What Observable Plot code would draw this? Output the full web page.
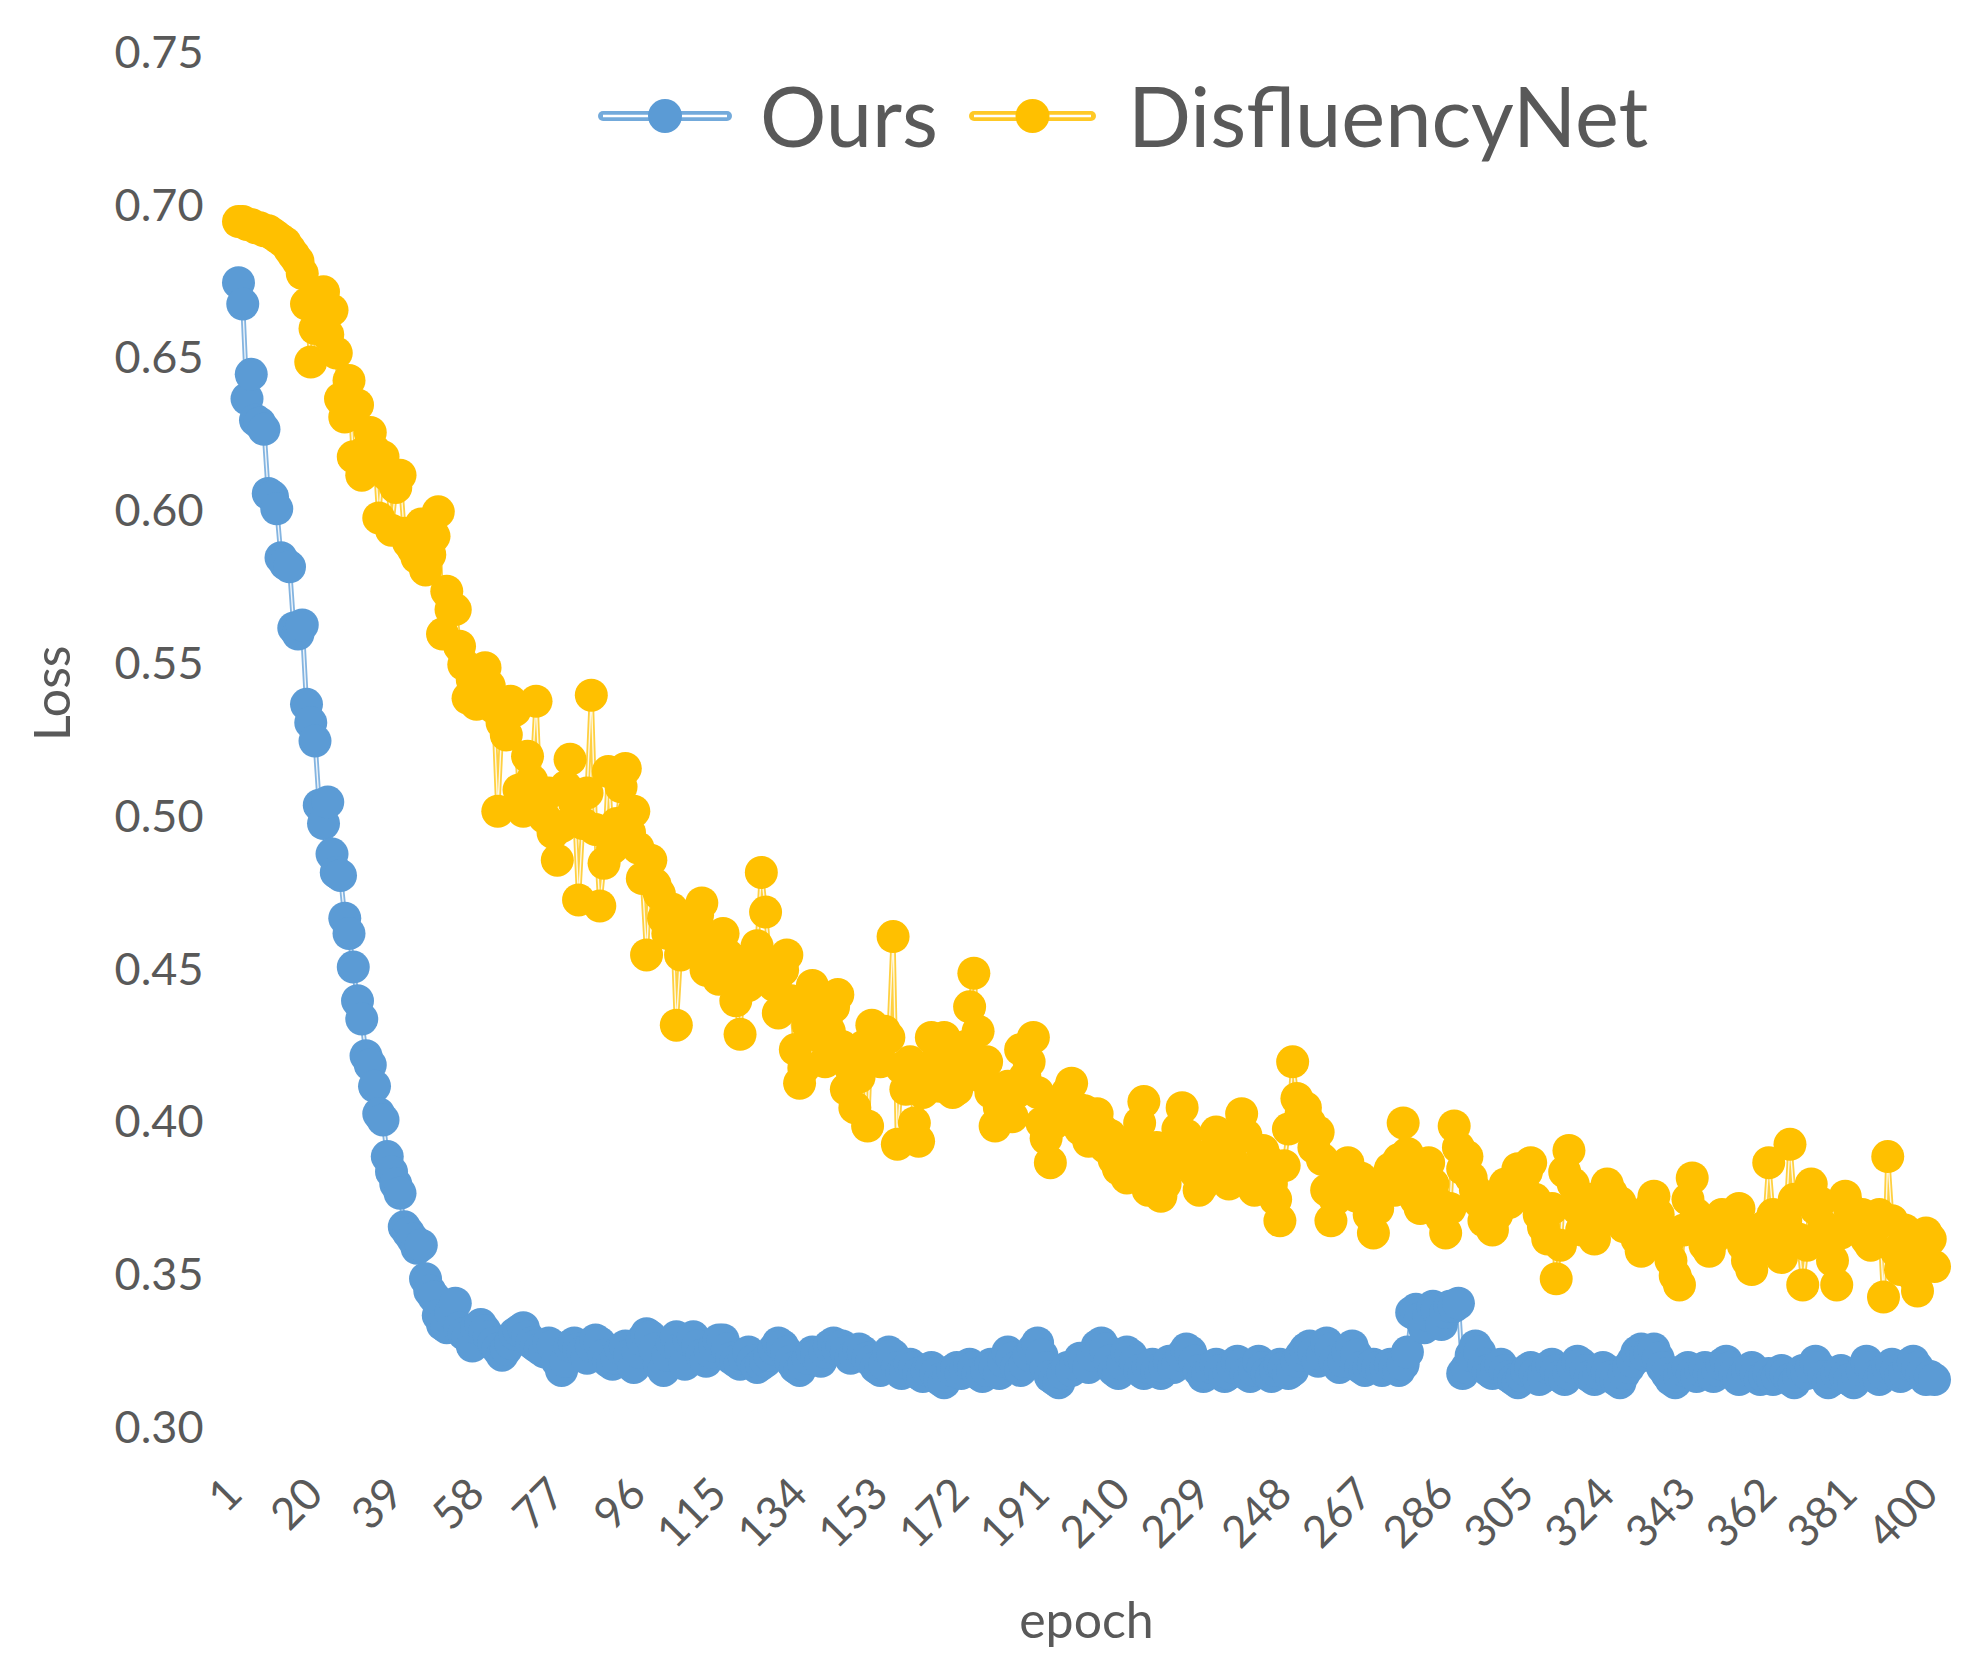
<!DOCTYPE html>
<html>
<head>
<meta charset="utf-8">
<script src="https://cdn.jsdelivr.net/npm/d3@7"></script>
<script src="https://cdn.jsdelivr.net/npm/@observablehq/plot@0.6"></script>
<style>
  html, body { margin: 0; padding: 0; background: #ffffff; }
  #wrap { position: relative; width: 1975px; height: 1672px; font-family: Lato, "Open Sans", sans-serif; color: #595959; }
  #legend { position: absolute; left: 598px; top: 74px; display: flex; align-items: center; }
  #legend .item { display: flex; align-items: center; }
  #legend .lab { font-size: 83px; line-height: 83px; color: #595959; }
</style>
</head>
<body>
<div id="wrap">
  <div id="chart"></div>
  <div id="legend"></div>
</div>
<script>
// ---- data ----
const seriesNames = ["Ours", "DisfluencyNet"];
const seriesColors = ["#5B9BD5", "#FFC000"];
const xTicks = [1, 20, 39, 58, 77, 96, 115, 134, 153, 172, 191, 210, 229, 248, 267, 286, 305, 324, 343, 362, 381, 400];
const yTicks = [0.30, 0.35, 0.40, 0.45, 0.50, 0.55, 0.60, 0.65, 0.70, 0.75];
const xLabel = "epoch";
const yLabel = "Loss";

const ours = [
  0.675, 0.668, 0.637, 0.645, 0.630, 0.629, 0.627, 0.606, 0.605, 0.601, 0.585, 0.583, 0.582, 0.562, 0.560, 0.563, 0.537, 0.531, 0.525, 0.504,
  0.498, 0.505, 0.488, 0.482, 0.481, 0.467, 0.462, 0.451, 0.440, 0.434, 0.422, 0.419, 0.412, 0.403, 0.401, 0.389, 0.384, 0.380, 0.377, 0.366,
  0.364, 0.362, 0.359, 0.360, 0.349, 0.345, 0.343, 0.337, 0.334, 0.333, 0.338, 0.341, 0.333, 0.331, 0.330, 0.327, 0.333, 0.334, 0.332, 0.330,
  0.328, 0.326, 0.324, 0.326, 0.328, 0.331, 0.332, 0.333, 0.330, 0.328, 0.327, 0.326, 0.325, 0.328, 0.327, 0.322, 0.319, 0.322, 0.327, 0.328,
  0.326, 0.325, 0.323, 0.327, 0.329, 0.328, 0.324, 0.322, 0.321, 0.323, 0.326, 0.327, 0.324, 0.320, 0.325, 0.329, 0.331, 0.330, 0.326, 0.321,
  0.319, 0.324, 0.328, 0.330, 0.326, 0.321, 0.329, 0.330, 0.327, 0.324, 0.322, 0.325, 0.327, 0.329, 0.329, 0.326, 0.323, 0.322, 0.321, 0.323,
  0.325, 0.322, 0.320, 0.321, 0.322, 0.324, 0.326, 0.328, 0.327, 0.325, 0.322, 0.320, 0.319, 0.321, 0.323, 0.325, 0.324, 0.322, 0.325, 0.327,
  0.328, 0.326, 0.327, 0.325, 0.323, 0.324, 0.326, 0.325, 0.323, 0.322, 0.320, 0.319, 0.321, 0.325, 0.324, 0.320, 0.318, 0.319, 0.321, 0.320,
  0.318, 0.317, 0.319, 0.320, 0.318, 0.316, 0.315, 0.317, 0.319, 0.320, 0.318, 0.319, 0.321, 0.320, 0.318, 0.317, 0.319, 0.321, 0.320, 0.318,
  0.322, 0.325, 0.323, 0.320, 0.319, 0.321, 0.324, 0.326, 0.328, 0.324, 0.320, 0.317, 0.316, 0.315, 0.318, 0.320, 0.319, 0.321, 0.323, 0.322,
  0.320, 0.324, 0.327, 0.328, 0.326, 0.322, 0.319, 0.318, 0.321, 0.325, 0.324, 0.322, 0.319, 0.318, 0.320, 0.321, 0.319, 0.318, 0.320, 0.322,
  0.320, 0.321, 0.324, 0.326, 0.325, 0.322, 0.319, 0.317, 0.318, 0.320, 0.321, 0.319, 0.317, 0.318, 0.320, 0.322, 0.321, 0.318, 0.317, 0.319,
  0.322, 0.320, 0.318, 0.317, 0.319, 0.321, 0.320, 0.318, 0.319, 0.322, 0.324, 0.326, 0.327, 0.325, 0.322, 0.324, 0.328, 0.326, 0.322, 0.320,
  0.322, 0.325, 0.327, 0.324, 0.320, 0.319, 0.320, 0.321, 0.320, 0.319, 0.320, 0.321, 0.320, 0.319, 0.321, 0.325, 0.338, 0.339, 0.336, 0.333,
  0.337, 0.340, 0.339, 0.334, 0.338, 0.340, 0.340, 0.341, 0.318, 0.320, 0.324, 0.327, 0.325, 0.321, 0.319, 0.318, 0.320, 0.321, 0.319, 0.317,
  0.316, 0.315, 0.317, 0.319, 0.320, 0.318, 0.316, 0.317, 0.320, 0.321, 0.319, 0.317, 0.316, 0.318, 0.320, 0.322, 0.321, 0.319, 0.317, 0.316,
  0.318, 0.320, 0.319, 0.317, 0.316, 0.315, 0.318, 0.320, 0.322, 0.325, 0.326, 0.324, 0.325, 0.326, 0.323, 0.320, 0.318, 0.316, 0.315, 0.317,
  0.319, 0.320, 0.318, 0.317, 0.319, 0.320, 0.318, 0.317, 0.319, 0.321, 0.322, 0.320, 0.318, 0.316, 0.317, 0.319, 0.320, 0.318, 0.316, 0.317,
  0.318, 0.316, 0.317, 0.319, 0.318, 0.316, 0.315, 0.317, 0.319, 0.318, 0.320, 0.322, 0.320, 0.317, 0.315, 0.316, 0.318, 0.319, 0.317, 0.316,
  0.315, 0.317, 0.319, 0.322, 0.320, 0.317, 0.316, 0.318, 0.320, 0.321, 0.319, 0.317, 0.318, 0.321, 0.322, 0.320, 0.318, 0.316, 0.317, 0.316
];

const disfluencyNet = [
  0.695, 0.695, 0.694, 0.694, 0.693, 0.693, 0.692, 0.692, 0.691, 0.690, 0.689, 0.688, 0.686, 0.684, 0.682, 0.678, 0.668, 0.649, 0.660, 0.666,
  0.672, 0.658, 0.666, 0.652, 0.637, 0.631, 0.643, 0.618, 0.635, 0.612, 0.620, 0.626, 0.620, 0.598, 0.618, 0.612, 0.594, 0.608, 0.612, 0.593,
  0.590, 0.588, 0.585, 0.596, 0.581, 0.586, 0.592, 0.600, 0.560, 0.574, 0.568, 0.568, 0.556, 0.550, 0.539, 0.545, 0.537, 0.540, 0.549, 0.543,
  0.536, 0.502, 0.531, 0.527, 0.538, 0.535, 0.509, 0.502, 0.520, 0.512, 0.538, 0.506, 0.500, 0.508, 0.495, 0.486, 0.497, 0.510, 0.519, 0.505,
  0.473, 0.498, 0.508, 0.540, 0.496, 0.471, 0.485, 0.515, 0.490, 0.498, 0.510, 0.516, 0.495, 0.502, 0.490, 0.480, 0.455, 0.486, 0.478, 0.475,
  0.467, 0.462, 0.470, 0.432, 0.455, 0.465, 0.465, 0.458, 0.468, 0.472, 0.450, 0.460, 0.453, 0.447, 0.462, 0.455, 0.449, 0.440, 0.429, 0.453,
  0.445, 0.450, 0.458, 0.482, 0.469, 0.452, 0.445, 0.436, 0.450, 0.455, 0.440, 0.424, 0.413, 0.418, 0.432, 0.445, 0.436, 0.428, 0.420, 0.430,
  0.438, 0.442, 0.425, 0.411, 0.418, 0.405, 0.415, 0.425, 0.399, 0.432, 0.428, 0.420, 0.430, 0.428, 0.461, 0.393, 0.418, 0.411, 0.420, 0.400,
  0.394, 0.410, 0.418, 0.428, 0.420, 0.412, 0.428, 0.418, 0.410, 0.411, 0.418, 0.425, 0.438, 0.449, 0.430, 0.415, 0.420, 0.410, 0.399, 0.405,
  0.407, 0.412, 0.402, 0.410, 0.424, 0.415, 0.420, 0.428, 0.410, 0.400, 0.395, 0.387, 0.400, 0.407, 0.402, 0.410, 0.413, 0.405, 0.398, 0.404,
  0.394, 0.400, 0.403, 0.398, 0.392, 0.396, 0.388, 0.385, 0.391, 0.382, 0.390, 0.395, 0.400, 0.407, 0.378, 0.386, 0.392, 0.376, 0.380, 0.386,
  0.392, 0.398, 0.405, 0.396, 0.389, 0.384, 0.378, 0.380, 0.386, 0.390, 0.397, 0.388, 0.382, 0.380, 0.387, 0.395, 0.403, 0.396, 0.382, 0.378,
  0.385, 0.391, 0.388, 0.380, 0.375, 0.368, 0.386, 0.398, 0.420, 0.408, 0.403, 0.405, 0.400, 0.392, 0.397, 0.388, 0.378, 0.368, 0.375, 0.380,
  0.385, 0.387, 0.380, 0.376, 0.382, 0.375, 0.370, 0.364, 0.372, 0.378, 0.382, 0.385, 0.378, 0.388, 0.400, 0.390, 0.380, 0.375, 0.372, 0.378,
  0.387, 0.380, 0.374, 0.369, 0.364, 0.372, 0.399, 0.392, 0.385, 0.389, 0.382, 0.378, 0.374, 0.368, 0.372, 0.365, 0.370, 0.375, 0.380, 0.374,
  0.378, 0.385, 0.380, 0.384, 0.387, 0.375, 0.370, 0.366, 0.362, 0.372, 0.349, 0.360, 0.384, 0.391, 0.380, 0.372, 0.365, 0.370, 0.375, 0.362,
  0.368, 0.375, 0.380, 0.377, 0.372, 0.374, 0.366, 0.370, 0.368, 0.362, 0.358, 0.366, 0.372, 0.376, 0.370, 0.365, 0.360, 0.355, 0.350, 0.347,
  0.365, 0.375, 0.382, 0.370, 0.364, 0.360, 0.358, 0.362, 0.366, 0.370, 0.368, 0.365, 0.370, 0.372, 0.360, 0.355, 0.352, 0.358, 0.364, 0.366,
  0.387, 0.370, 0.362, 0.356, 0.368, 0.393, 0.375, 0.362, 0.347, 0.360, 0.380, 0.372, 0.374, 0.366, 0.360, 0.355, 0.347, 0.364, 0.376, 0.372,
  0.368, 0.365, 0.370, 0.362, 0.360, 0.366, 0.370, 0.343, 0.389, 0.368, 0.358, 0.352, 0.365, 0.360, 0.350, 0.345, 0.356, 0.364, 0.362, 0.353
];

// ---- build table ----
const allSeries = [ours, disfluencyNet];
const rows = allSeries.map((vals, s) => vals.map((v, i) => ({ epoch: i + 1, loss: v, series: seriesNames[s] })));

const marks = [];
rows.forEach((data, s) => {
  marks.push(Plot.line(data, { x: "epoch", y: "loss", stroke: seriesColors[s], strokeWidth: 5, strokeOpacity: 0.75 }));
  marks.push(Plot.line(data, { x: "epoch", y: "loss", stroke: "#ffffff", strokeWidth: 1.4, strokeOpacity: 0.85 }));
  marks.push(Plot.dot(data, { x: "epoch", y: "loss", r: 16.5, fill: seriesColors[s], stroke: "none" }));
});

const chart = Plot.plot({
  width: 1975,
  height: 1672,
  marginLeft: 238,
  marginRight: 41,
  marginTop: 53,
  marginBottom: 244,
  style: { fontFamily: "Lato, 'Open Sans', sans-serif", color: "#595959", background: "#ffffff" },
  x: { type: "linear", domain: [1, 400] },
  y: { domain: [0.30, 0.75] },
  marks: [
    Plot.axisY({ ticks: yTicks, tickFormat: d => d.toFixed(2), tickSize: 0, tickPadding: 35, fontSize: 45, label: null }),
    Plot.axisX({ ticks: xTicks, tickFormat: d => String(d), tickSize: 0, tickPadding: 58, tickRotate: -45, fontSize: 44, label: null, dx: -4 }),
    ...marks,
    Plot.text([xLabel], { frameAnchor: "bottom", dy: 209, fontSize: 50, fill: "#595959" }),
    Plot.text([yLabel], { frameAnchor: "left", dx: -185, rotate: -90, fontSize: 50, fill: "#595959" })
  ]
});
document.getElementById("chart").appendChild(chart);

// ---- legend ----
const legend = document.getElementById("legend");
const swatchW = [134, 127];
const gapAfterSwatch = [28, 32];
const gapAfterLabel = [31, 0];
seriesNames.forEach((name, s) => {
  const item = document.createElement("div");
  item.className = "item";
  const w = swatchW[s];
  item.innerHTML =
    `<svg width="${w}" height="40" style="display:block">` +
    `<line x1="5" x2="${w - 5}" y1="20" y2="20" stroke="${seriesColors[s]}" stroke-width="10" stroke-linecap="round" stroke-opacity="0.85"/>` +
    `<line x1="5" x2="${w - 5}" y1="20" y2="20" stroke="#fff" stroke-width="2.5"/>` +
    `<circle cx="${w / 2}" cy="20" r="17" fill="${seriesColors[s]}"/>` +
    `</svg>` +
    `<span class="lab" style="margin-left:${gapAfterSwatch[s]}px;margin-right:${gapAfterLabel[s]}px">${name}</span>`;
  legend.appendChild(item);
});
</script>
</body>
</html>
